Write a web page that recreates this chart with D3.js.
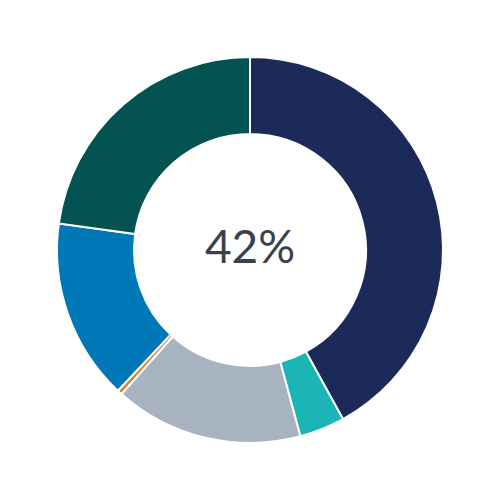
<!DOCTYPE html>
<html><head><meta charset="utf-8">
<script src="https://cdn.jsdelivr.net/npm/d3@7"></script>
<style>html,body{margin:0;padding:0;background:#fff;}</style>
</head><body>
<svg id="chart" width="500" height="500"></svg>
<script>
const categories = ["A", "B", "C", "D", "E", "F"];
const values = [42, 3.8, 15.8, 0.4, 15.2, 22.8];
const colors = ["#1c2a5a", "#1bb4b7", "#a8b3c1", "#e57a24", "#0077b7", "#025352"];
const centerLabel = "42%";

const svg = d3.select("#chart");
const g = svg.append("g").attr("transform", "translate(250,250)");
const pie = d3.pie().sort(null).value(d => d.v);
const arc = d3.arc().innerRadius(116).outerRadius(193);
const data = categories.map((c, i) => ({c, v: values[i], col: colors[i]}));
g.selectAll("path").data(pie(data)).join("path")
  .attr("d", arc)
  .attr("fill", d => d.data.col)
  .attr("stroke", "#fff")
  .attr("stroke-width", 2);
g.append("text").attr("text-anchor", "middle").attr("y", 13)
  .attr("font-family", "Lato, sans-serif").attr("font-weight", 400)
  .attr("font-size", 46).attr("fill", "#3c4148").text(centerLabel);
</script>
</body></html>
